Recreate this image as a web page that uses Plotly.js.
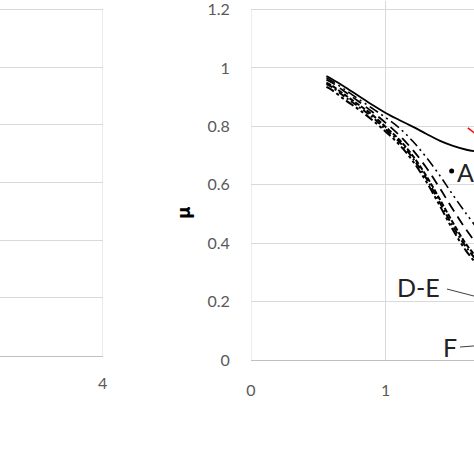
<!DOCTYPE html>
<html>
<head>
<meta charset="utf-8">
<script src="https://cdn.plot.ly/plotly-3.0.1.min.js"></script>
<style>
  html, body { margin: 0; padding: 0; overflow: hidden; background: #fff; }
</style>
</head>
<body>
<div id="plot_mu"></div>
<script>
// values (x shared by every curve)
var xs = [0.56, 0.6, 0.7, 0.8, 0.9, 1.0, 1.1, 1.2, 1.3, 1.4, 1.5, 1.6, 1.7, 1.8, 1.9, 2.0];
var muA = [0.972, 0.962, 0.934, 0.904, 0.874, 0.846, 0.822, 0.799, 0.775, 0.751, 0.733, 0.72, 0.713, 0.71, 0.709, 0.709];
var muB = [0.966, 0.956, 0.925, 0.893, 0.862, 0.83, 0.795, 0.75, 0.695, 0.633, 0.565, 0.50, 0.44, 0.39, 0.35, 0.32];
var muC = [0.96, 0.95, 0.918, 0.885, 0.85, 0.812, 0.77, 0.72, 0.66, 0.59, 0.515, 0.445, 0.385, 0.34, 0.30, 0.28];
var muD = [0.945, 0.935, 0.90, 0.867, 0.832, 0.79, 0.748, 0.692, 0.623, 0.541, 0.457, 0.385, 0.33, 0.29, 0.26, 0.24];
var muE = [0.95, 0.94, 0.907, 0.874, 0.84, 0.798, 0.755, 0.70, 0.632, 0.552, 0.47, 0.395, 0.34, 0.30, 0.27, 0.25];
var muF = [0.935, 0.925, 0.89, 0.858, 0.822, 0.782, 0.738, 0.682, 0.612, 0.53, 0.445, 0.372, 0.318, 0.28, 0.25, 0.23];

// short red piece at the right edge and the dot next to "A"
var redX = [1.61, 1.75];
var redY = [0.795, 0.745];
var dotX = [1.49];
var dotY = [0.647];

var yTicks = [0, 0.2, 0.4, 0.6, 0.8, 1, 1.2];
var yLabels = ['0', '0.2', '0.4', '0.6', '0.8', '1', '1.2'];

var tickFont = {family: 'Lato, "Open Sans", sans-serif', size: 16, color: '#595959'};
var labelFont = {family: 'Lato, "Open Sans", sans-serif', size: 25, color: '#222'};

function curve(y, dash, width) {
  return {
    x: xs, y: y, xaxis: 'x2', yaxis: 'y2',
    type: 'scatter', mode: 'lines',
    line: {color: '#000', width: width, dash: dash, shape: 'spline'},
    hoverinfo: 'skip'
  };
}

var data_plot = [
  // left panel has no visible marks, only its frame
  {x: [], y: [], xaxis: 'x', yaxis: 'y', type: 'scatter', mode: 'lines'},
  curve(muF, '9px,3px,3px,3px,3px,3px', 2),
  curve(muD, '7px,3px,2px,3px', 2),
  curve(muE, '5px,2px', 2),
  curve(muC, '10px,6px', 1.8),
  curve(muB, '10px,4px,2px,4px,2px,4px', 1.6),
  curve(muA, 'solid', 1.8),
  {x: redX, y: redY, xaxis: 'x2', yaxis: 'y2', type: 'scatter', mode: 'lines',
   line: {color: '#ff0000', width: 1.5}},
  {x: dotX, y: dotY, xaxis: 'x2', yaxis: 'y2', type: 'scatter', mode: 'markers',
   marker: {color: '#000', size: 5}}
];

var layout = {
  width: 474, height: 474, autosize: false,
  margin: {l: 0, r: 0, t: 0, b: 0},
  paper_bgcolor: '#fff', plot_bgcolor: '#fff',
  showlegend: false,
  xaxis: {
    domain: [0, 0.2163], range: [3.24, 4],
    tickvals: [4], ticktext: ['4'],
    showgrid: false, zeroline: false,
    showline: true, linecolor: '#bfbfbf', linewidth: 1,
    ticks: 'outside', ticklen: 13, tickcolor: 'rgba(0,0,0,0)',
    tickfont: tickFont, automargin: false, anchor: 'y'
  },
  yaxis: {
    // range runs past 1.2 so the top grid line is kept
    domain: [0.2496, 0.9985], range: [0, 1.23],
    tickvals: yTicks, showticklabels: false,
    showgrid: true, gridcolor: '#d9d9d9', gridwidth: 1, zeroline: false,
    side: 'right', showline: false,
    automargin: false, anchor: 'x'
  },
  xaxis2: {
    domain: [0.5295, 1], range: [0, 1.656],
    tickvals: [0, 1, 2, 3, 4], ticktext: ['0', '1', '2', '3', '4'],
    showgrid: true, gridcolor: '#d9d9d9', zeroline: false,
    showline: true, linecolor: '#bfbfbf', linewidth: 1,
    ticks: 'outside', ticklen: 16, tickcolor: 'rgba(0,0,0,0)',
    tickfont: tickFont, automargin: false, anchor: 'y2'
  },
  yaxis2: {
    domain: [0.2405, 0.9983], range: [0, 1.23],
    tickvals: yTicks, ticktext: yLabels,
    showgrid: true, gridcolor: '#d9d9d9', zeroline: false,
    showline: false, ticklabeloverflow: 'allow',
    ticks: 'outside', ticklen: 17, tickcolor: 'rgba(0,0,0,0)',
    tickfont: tickFont, automargin: false, anchor: 'x2'
  },
  annotations: [
    {text: '<b>\u03bc</b>', xref: 'paper', yref: 'paper', x: 0.388, y: 0.5527,
     textangle: -90, showarrow: false,
     font: {family: '"DejaVu Sans", sans-serif', size: 17, color: '#000'}},
    {text: 'A', xref: 'x2', yref: 'y2', x: 1.515, y: 0.644, xanchor: 'left',
     showarrow: false, font: labelFont},
    {text: 'D-E', xref: 'x2', yref: 'y2', x: 1.247, y: 0.25,
     showarrow: false, font: labelFont},
    {text: 'F', xref: 'x2', yref: 'y2', x: 1.477, y: 0.045,
     showarrow: false, font: labelFont}
  ],
  shapes: [
    // vertical frame lines: right edge of the left panel, y axis of the right panel
    {type: 'line', xref: 'x', yref: 'y', x0: 4, x1: 4, y0: 0, y1: 1.2,
     line: {color: '#d9d9d9', width: 1}},
    {type: 'line', xref: 'x2', yref: 'y2', x0: 0, x1: 0, y0: 0, y1: 1.2,
     line: {color: '#d9d9d9', width: 1}},
    // leader lines running off to the right
    {type: 'line', xref: 'x2', yref: 'y2', x0: 1.455, y0: 0.243, x1: 2.0, y1: 0.178,
     line: {color: '#404040', width: 1}},
    {type: 'line', xref: 'x2', yref: 'y2', x0: 1.552, y0: 0.0445, x1: 2.0, y1: 0.06,
     line: {color: '#404040', width: 1}}
  ]
};

Plotly.newPlot('plot_mu', data_plot, layout, {staticPlot: true});
</script>
</body>
</html>
